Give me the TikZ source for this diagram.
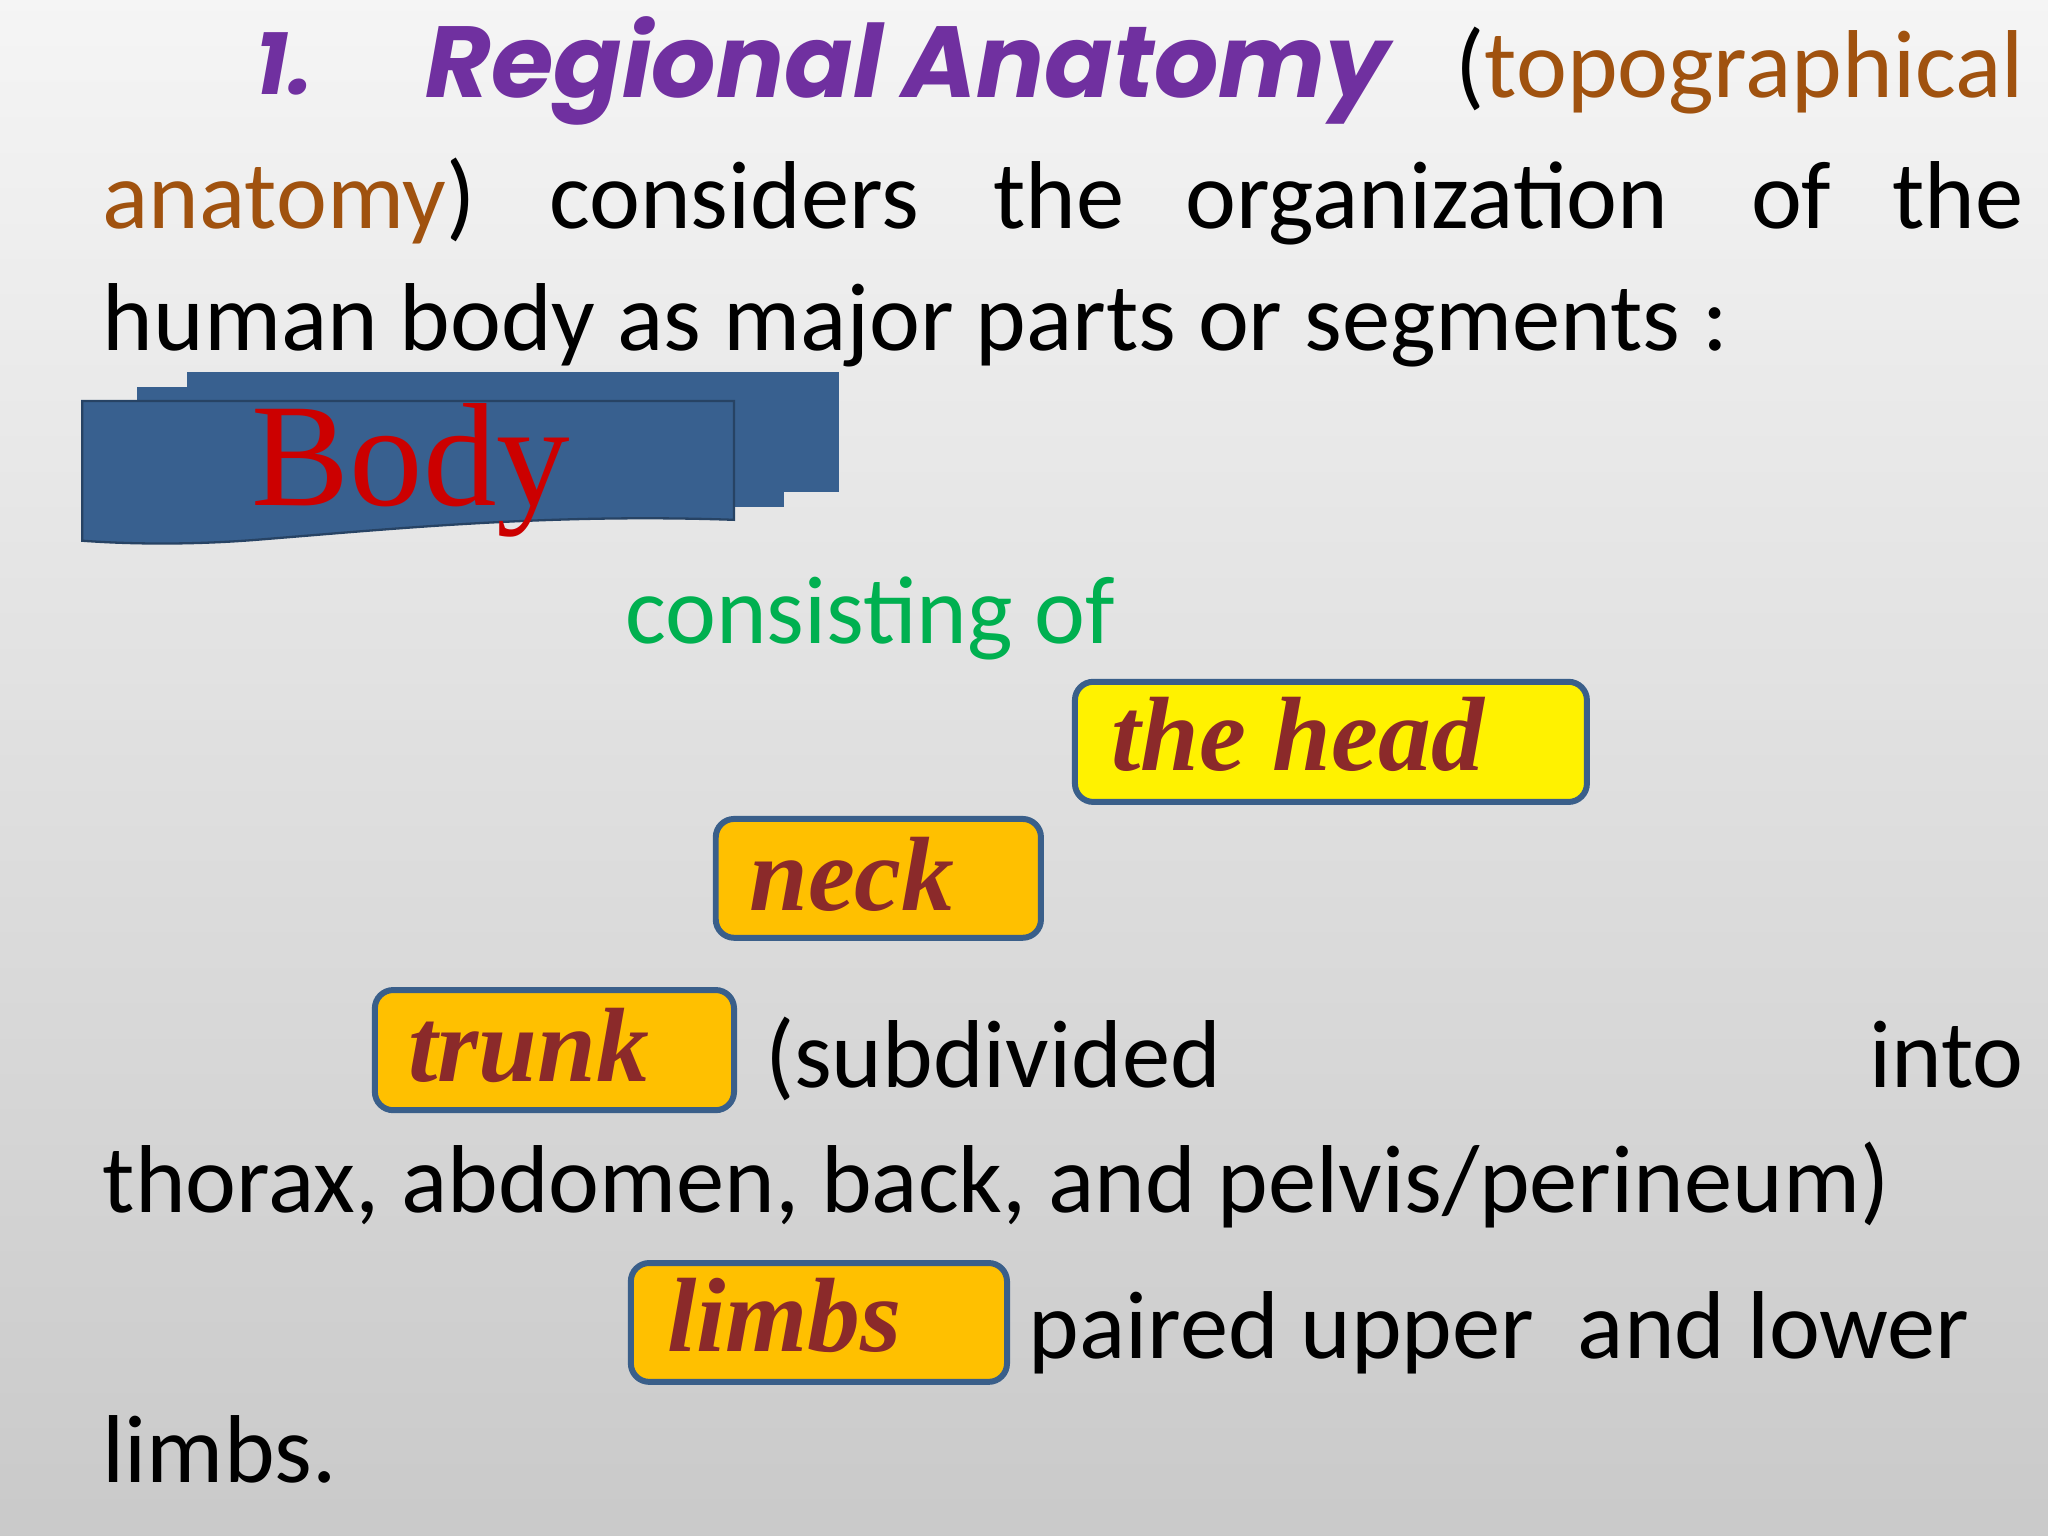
\documentclass[tikz,border=0pt]{standalone}
\usepackage{fontspec}
\setmainfont{Carlito}
\newfontfamily\titlefont{Poppins}
\newfontfamily\boxfont{Liberation Serif}
\definecolor{brn}{HTML}{A0520F}
\definecolor{pur}{HTML}{7030A0}
\definecolor{grn}{HTML}{00B050}
\definecolor{bx}{HTML}{FFC000}
\definecolor{bxt}{HTML}{8B2A2A}
\definecolor{bord}{HTML}{3A5F8A}
\definecolor{ban}{HTML}{38608F}
\tikzset{
 txt/.style={anchor=base west,inner sep=0pt,font=\fontsize{21}{25}\selectfont},
 txtr/.style={txt,anchor=base east},
 seg/.style={draw=bord,line width=1.3pt,rounded corners=4pt},
 segt/.style={anchor=base west,inner sep=0pt,text=bxt,font=\boxfont\bfseries\itshape\fontsize{23}{27}\selectfont},
}
\begin{document}
\begin{tikzpicture}[x=0.01cm,y=-0.01cm]
\shade[top color=gray!8,bottom color=gray!42] (0,0) rectangle (1568,1176);
\useasboundingbox (0,0) rectangle (1568,1176);
% line 1
\node[txt,text=pur,font=\titlefont\bfseries\itshape\fontsize{19}{22}\selectfont] (n1) at (195,72) {1.};
\node[txt,text=pur,font=\titlefont\bfseries\itshape\fontsize{22}{26}\selectfont] (reg) at (325,75) {Regional};
\node[txt,text=pur,font=\titlefont\bfseries\itshape\fontsize{22}{26}\selectfont] (ana) at (690,75) {Anatomy};
\node[txtr] (topo) at (1550,75) {(\textcolor{brn}{topographical}};
% line 2
\node[txt,text=brn] (l2a) at (78,175) {anatomy\textcolor{black}{)}};
\node[txt] (l2b) at (420,175) {considers};
\node[txt] (l2c) at (760,175) {the};
\node[txt] (l2d) at (907,175) {organization};
\node[txt] (l2e) at (1340,175) {of};
\node[txtr] (l2f) at (1550,175) {the};
% line 3
\node[txt] (l3) at (78,268) {human body as major parts or segments :};
% banner
\fill[ban] (143,285) rectangle (642,377);
\fill[ban] (105,296) rectangle (600,388);
\fill[ban,draw=ban!70!black,line width=0.5pt] (63,307) -- (562,307) -- (562,398) .. controls (420,393) and (300,405) .. (200,413) .. controls (140,418) and (90,416) .. (63,414) -- cycle;
\node[anchor=base west,inner sep=0pt,text=red!80!black,font=\boxfont\fontsize{32}{36}\selectfont] (body) at (192,387) {Body};
% consisting
\node[txt,text=grn] (cons) at (478,493) {consisting of};
% boxes
\draw[seg,fill=yellow] (823,522) rectangle (1215,614);
\node[segt] (head) at (850,590) {the head};
\draw[seg,fill=bx] (548,627) rectangle (797,718);
\node[segt] (neck) at (573,697) {neck};
\draw[seg,fill=bx] (287,758) rectangle (562,850);
\node[segt] (trunk) at (312,828) {trunk};
\node[txt] (sub) at (585,833) {(subdivided};
\node[txtr] (into) at (1550,833) {into};
\node[txt] (thor) at (78,928) {thorax, abdomen, back, and pelvis/perineum)};
\draw[seg,fill=bx] (483,967) rectangle (771,1058);
\node[segt] (limbs) at (510,1035) {limbs};
\node[txt] (pair) at (787,1040) {paired upper\ \ and lower};
\node[txt] (lim2) at (78,1135) {limbs.};
\end{tikzpicture}
\end{document}
